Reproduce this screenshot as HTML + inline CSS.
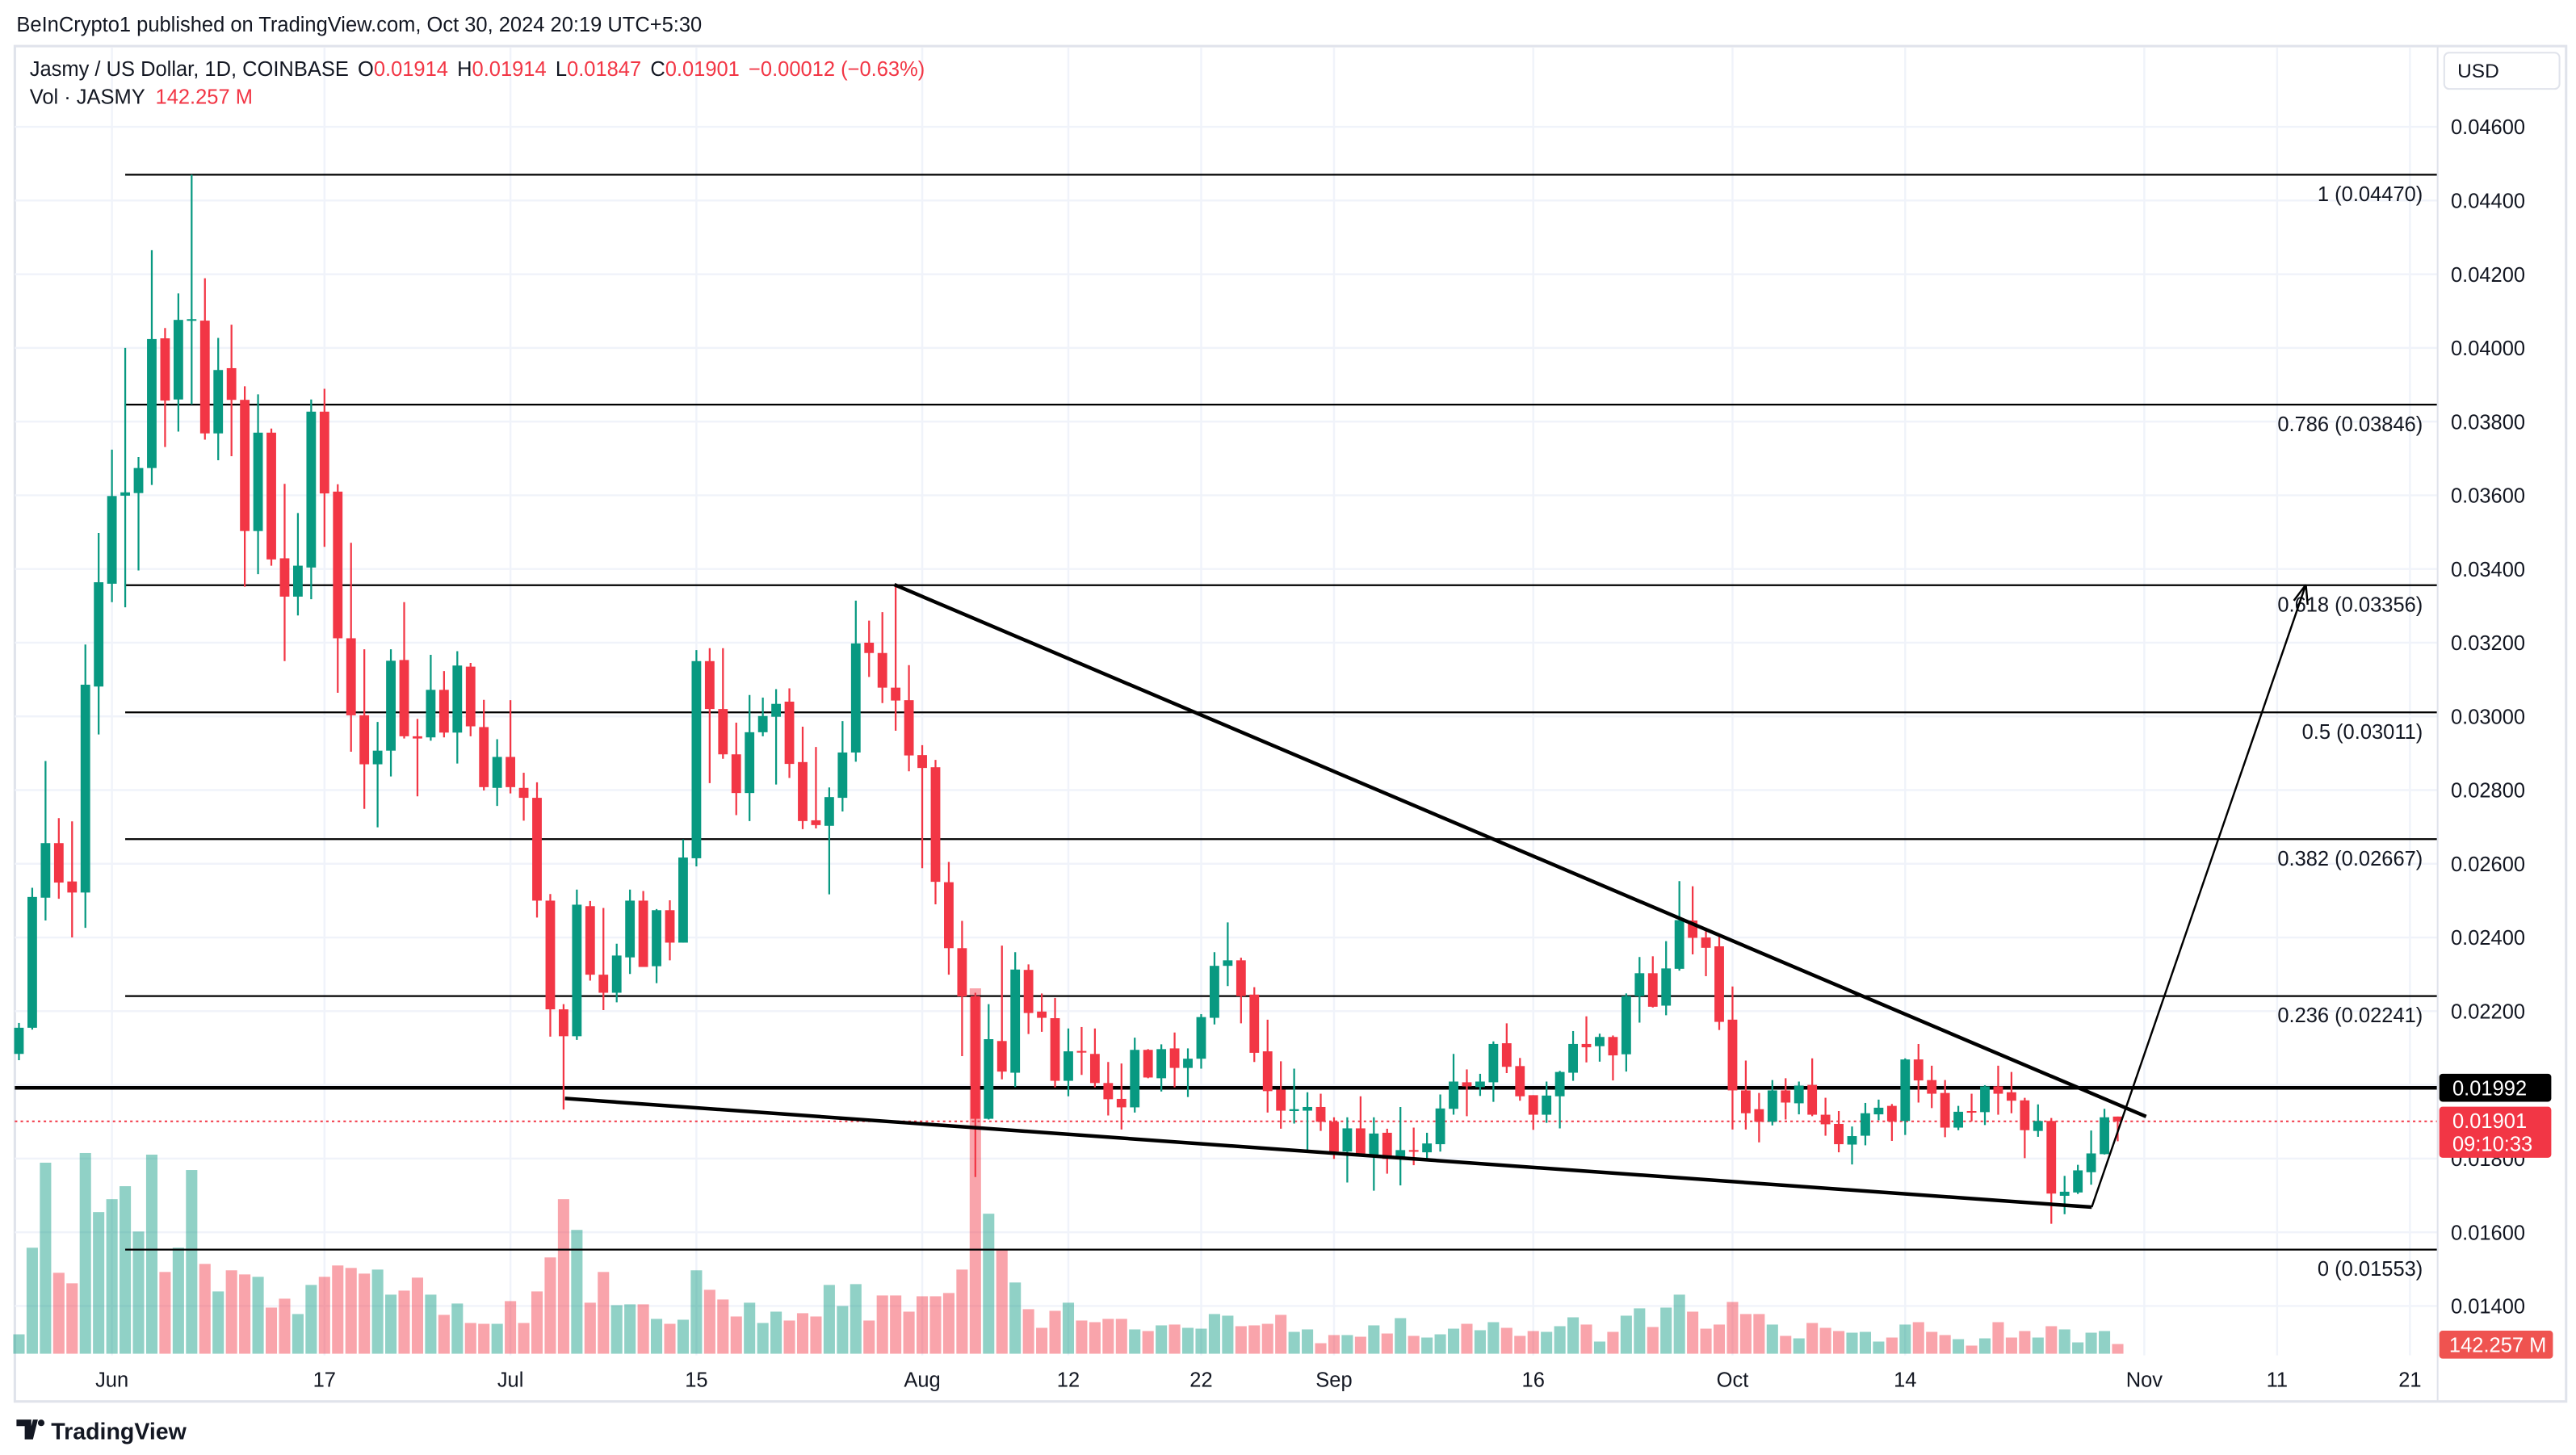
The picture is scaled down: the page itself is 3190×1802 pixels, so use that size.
<!DOCTYPE html>
<html><head><meta charset="utf-8"><style>
html,body{margin:0;padding:0;background:#fff;}
svg{display:block;font-family:"Liberation Sans",sans-serif;}
</style></head><body>
<svg id="chart" width="3190" height="1802" viewBox="0 0 1564 883.5" xmlns="http://www.w3.org/2000/svg">
<rect width="1564" height="883.5" fill="#ffffff"/>
<text x="10" y="19" font-size="12.5" fill="#131722">BeInCrypto1 published on TradingView.com, Oct 30, 2024 20:19 UTC+5:30</text>
<rect x="9" y="28" width="1549" height="823" fill="none" stroke="#e0e3eb" stroke-width="1.5"/>
<g id="grid"></g>
<g id="vol"></g>
<g id="levels"></g>
<g id="candles"></g>
<g id="draw"></g>
<line x1="1480" y1="28" x2="1480" y2="851" stroke="#e0e3eb" stroke-width="1"/>
<g id="axis"></g>
<g id="taxis"></g>
<text x="18" y="46" font-size="12.5" fill="#131722">Jasmy / US Dollar, 1D, COINBASE <tspan dx="2">O</tspan><tspan fill="#F23645">0.01914</tspan> <tspan dx="2">H</tspan><tspan fill="#F23645">0.01914</tspan> <tspan dx="2">L</tspan><tspan fill="#F23645">0.01847</tspan> <tspan dx="2">C</tspan><tspan fill="#F23645">0.01901</tspan> <tspan dx="2" fill="#F23645">−0.00012 (−0.63%)</tspan></text>
<text x="18" y="63" font-size="12.5" fill="#131722">Vol · JASMY <tspan dx="3" fill="#F23645">142.257 M</tspan></text>
<rect x="1484" y="32" width="70" height="22" rx="3" fill="#fff" stroke="#e0e3eb"/>
<text x="1492" y="47" font-size="12" fill="#131722">USD</text>
<g>
<path d="M10 862h9v12h-4v-8h-5z M20 862h3l-3 12h-3z" fill="#131722"/>
<circle cx="25" cy="864" r="2" fill="#131722"/>
<text x="31" y="874" font-size="14" font-weight="bold" fill="#131722">TradingView</text>
</g>
</svg>
<script>
const opens=[20.84,21.55,25.08,26.56,25.52,25.22,30.81,33.6,35.99,36.06,36.74,40.26,38.6,40.78,40.74,37.68,39.45,38.59,35.03,37.7,34.29,33.25,34.04,38.27,36.1,32.12,30.03,28.7,29.07,31.53,29.46,29.43,30.72,29.56,31.35,29.71,28.06,28.9,28.06,27.79,25.0,22.05,21.32,24.85,22.99,22.5,23.46,25.0,23.22,24.74,23.86,26.15,31.5,30.2,28.97,27.92,29.57,29.99,30.4,28.76,27.18,27.03,27.79,29.02,32.0,31.72,30.78,30.44,28.95,28.62,25.5,23.71,22.41,19.08,21.19,20.33,23.12,21.99,21.81,20.11,20.92,20.84,20.05,19.62,19.39,20.95,20.18,20.99,20.46,20.71,21.82,23.23,23.38,22.45,20.91,19.87,19.29,19.3,19.4,19.0,18.19,18.82,18.1,18.7,17.99,18.23,18.17,18.39,19.35,20.07,19.94,20.07,21.13,20.51,19.72,19.19,19.69,20.33,21.11,21.05,21.3,20.83,22.41,23.03,22.15,23.15,24.46,24.0,23.76,21.77,19.85,19.34,19.0,19.85,19.5,20.0,19.19,18.94,18.38,18.62,19.2,19.43,19.02,20.69,20.13,19.78,18.84,19.29,19.26,19.96,19.8,19.58,18.75,19.02,16.99,17.08,17.63,18.12,19.14];
const highs=[21.68,25.35,28.79,27.24,27.15,31.95,34.98,37.24,40.0,37.04,42.65,40.54,41.48,44.70,41.89,40.27,40.63,38.96,38.74,37.81,36.31,35.52,38.6,38.89,36.3,34.71,31.82,29.85,31.82,33.1,29.93,31.67,31.23,31.77,31.45,30.45,29.38,30.44,28.47,28.21,25.18,22.19,25.3,24.99,24.8,23.83,25.3,25.26,24.77,25.01,26.66,31.8,31.85,31.85,29.83,30.58,30.51,30.74,30.76,29.72,29.17,28.07,29.87,33.14,32.6,32.83,33.53,31.39,29.22,28.82,26.05,24.45,22.5,22.19,23.78,23.6,23.27,22.48,22.36,21.53,21.57,21.53,20.62,20.58,21.28,20.97,21.1,21.42,20.99,21.92,23.6,24.41,23.45,22.65,21.77,20.64,20.44,19.8,19.76,19.12,19.12,19.69,19.12,18.81,19.4,18.84,18.7,19.74,20.84,20.42,20.3,21.18,21.67,20.73,19.72,20.09,20.38,21.46,21.86,21.39,21.34,22.48,23.47,23.49,23.9,25.53,25.39,24.26,24.08,22.67,20.66,19.78,20.13,20.18,20.09,20.72,19.65,19.29,18.87,19.51,19.6,19.48,20.72,21.11,20.52,20.13,19.43,19.76,19.99,20.52,20.35,19.65,19.47,19.1,17.53,17.83,18.76,19.35,19.14];
const lows=[20.67,21.5,24.46,25.05,24.0,24.26,29.51,33.1,32.96,33.96,36.28,37.31,37.73,38.47,37.51,36.95,37.06,33.52,33.86,34.09,31.5,32.74,33.18,34.6,30.64,29.04,27.49,26.99,28.37,29.4,27.83,29.34,29.43,28.72,29.46,27.99,27.57,27.91,27.17,24.54,21.31,19.33,21.22,22.83,22.03,22.24,23.01,23.2,22.76,23.38,23.86,25.93,28.19,28.85,27.32,27.16,29.46,28.15,28.33,26.94,26.96,25.17,27.42,28.77,31.07,30.36,29.61,28.51,25.88,24.9,22.99,20.78,17.5,19.06,20.15,19.94,21.38,21.44,19.93,19.69,20.27,19.93,19.17,18.79,19.25,20.18,19.82,19.93,19.67,20.44,21.64,22.68,21.67,20.62,19.25,18.81,18.95,18.17,18.75,17.99,17.35,18.1,17.13,17.59,17.27,17.82,17.94,18.19,19.19,19.15,19.7,19.54,20.32,19.57,18.78,18.97,18.82,20.11,20.61,20.63,20.12,20.36,21.69,22.1,21.89,23.1,23.54,22.95,21.49,18.79,18.79,18.44,18.9,19.06,19.2,19.15,18.62,18.17,17.84,18.36,19.04,18.48,18.64,19.52,19.37,18.58,18.77,19.01,18.91,19.19,19.23,18.01,18.59,16.23,16.49,17.04,17.29,18.11,18.47];
const closes=[21.55,25.10,26.56,25.49,25.22,30.86,33.64,35.98,36.08,36.74,40.24,38.57,40.76,40.78,37.68,39.4,38.59,35.03,37.7,34.26,33.25,34.09,38.27,36.05,32.12,30.03,28.7,29.07,31.51,29.46,29.4,30.72,29.56,31.38,29.73,28.08,28.9,28.08,27.79,25.0,22.05,21.32,24.89,22.99,22.5,23.51,25.0,23.2,24.74,23.86,26.17,31.5,30.2,28.97,27.92,29.57,30.01,30.34,28.71,27.16,27.05,27.81,29.02,31.98,31.72,30.78,30.43,28.94,28.6,25.51,23.71,22.4,19.08,21.24,20.36,23.13,21.95,21.82,20.11,20.91,20.89,20.05,19.61,19.39,20.95,20.2,20.97,20.46,20.71,21.84,23.23,23.38,22.41,20.87,19.83,19.3,19.34,19.4,19.0,18.19,18.82,18.1,18.68,17.99,18.23,18.19,18.41,19.36,20.09,19.96,20.09,21.11,20.49,19.69,19.19,19.71,20.35,21.11,21.02,21.3,20.8,22.41,23.03,22.12,23.16,24.47,23.99,23.72,21.71,19.85,19.23,19.0,19.85,19.52,19.98,19.19,18.93,18.39,18.61,19.23,19.38,19.01,20.69,20.12,19.76,18.84,19.27,19.26,19.96,19.76,19.57,18.77,19.02,17.05,17.1,17.68,18.14,19.12,19.01];
const volumes=[284,1552,2797,1185,1031,2939,2074,2263,2453,1789,2915,1197,1552,2690,1315,912,1221,1161,1126,675,806,581,1007,1126,1292,1256,1173,1232,865,924,1114,865,569,735,450,438,438,770,450,912,1410,2263,1813,747,1197,711,723,723,510,438,498,1221,936,794,545,747,450,616,486,593,545,1007,699,1019,486,853,853,616,841,841,889,1232,5350,2050,1517,1043,652,379,628,747,486,462,510,510,356,332,415,427,379,367,581,557,403,415,438,569,320,356,154,273,273,249,415,296,521,261,237,284,367,438,344,462,379,261,332,320,403,533,427,178,320,557,664,391,675,865,616,367,427,758,581,581,427,261,225,450,379,332,308,320,178,237,427,462,320,273,213,119,225,462,237,332,237,403,356,166,308,332,142];
const priceTicks=["0.04600","0.04400","0.04200","0.04000","0.03800","0.03600","0.03400","0.03200","0.03000","0.02800","0.02600","0.02400","0.02200","0.02000","0.01800","0.01600","0.01400"];
const tickValues=[46,44,42,40,38,36,34,32,30,28,26,24,22,20,18,16,14];
const timeLabels=["Jun","17","Jul","15","Aug","12","22","Sep","16","Oct","14","Nov","11","21"];
const timeIndex=[7,23,37,51,68,79,89,99,114,129,142,160,170,180];
const fibValues=[44.70,38.46,33.56,30.11,26.67,22.41,15.53];
const fibLabels=["1 (0.04470)","0.786 (0.03846)","0.618 (0.03356)","0.5 (0.03011)","0.382 (0.02667)","0.236 (0.02241)","0 (0.01553)"];
const NS="http://www.w3.org/2000/svg";
function y(p){return 77+(46-p)*22.375;}
function x(i){return 11.5+i*8.065;}
function vy(v){return 822-v*0.04147;}
function mk(tag,attrs,parent){const e=document.createElementNS(NS,tag);for(const k in attrs)e.setAttribute(k,attrs[k]);parent.appendChild(e);return e;}
const G=document.getElementById('grid'),V=document.getElementById('vol'),L=document.getElementById('levels'),C=document.getElementById('candles'),D=document.getElementById('draw'),A=document.getElementById('axis'),T=document.getElementById('taxis');
tickValues.forEach((t,i)=>{
 const l=mk('line',{x1:9,x2:1480,y1:y(t),y2:y(t),stroke:'#f0f3fa','stroke-width':1.2},G);
 
 
 const tx=mk('text',{x:1488,y:y(t)+4.5,'font-size':12.5,fill:'#131722'},A);
 tx.textContent=priceTicks[i];
 
 
});
timeIndex.forEach((d,i)=>{
 const l=mk('line',{x1:x(d),x2:x(d),y1:29,y2:823,stroke:'#f0f3fa','stroke-width':1.2},G);
 
 
 const tx=mk('text',{x:x(d),y:842,'font-size':12.5,fill:'#131722','text-anchor':'middle'},T);
 tx.textContent=timeLabels[i];
 
 
});
volumes.forEach((v,i)=>{
 const up=closes[i]>=opens[i];
 const r=mk('rect',{x:x(i)-3.45,width:6.9,y:vy(v),height:822-vy(v),fill:up?'rgba(8,153,129,0.45)':'rgba(242,54,69,0.45)'},V);
 
 
});
fibValues.forEach((f,i)=>{
 const l=mk('line',{x1:76,x2:1480,y1:y(f),y2:y(f),stroke:'#000','stroke-width':1.1},L);
 
 
 const tx=mk('text',{x:1471,y:y(f)+16,'font-size':12.5,fill:'#131722','text-anchor':'end'},L);
 tx.textContent=fibLabels[i];
 
 
});
const sr=mk('line',{x1:9,x2:1480,y1:y(19.92),y2:y(19.92),stroke:'#000','stroke-width':2.2},L);


const cp=mk('line',{x1:9,x2:1480,y1:y(19.01),y2:y(19.01),stroke:'#F23645','stroke-width':1,'stroke-dasharray':'1.5 2'},L);


opens.forEach((o,i)=>{
 const c=closes[i],up=c>=o,col=up?'#089981':'#F23645';
 const g=mk('g',{},C);
 
 
 mk('line',{x1:x(i),x2:x(i),y1:y(highs[i]),y2:y(lows[i]),stroke:col,'stroke-width':1.1},g);
 const top=y(Math.max(o,c)),h=Math.max(1,Math.abs(y(o)-y(c)));
 mk('rect',{x:x(i)-2.9,width:5.8,y:top,height:h,fill:col},g);
});
const ut=mk('line',{x1:543,y1:355,x2:1303,y2:678,stroke:'#000','stroke-width':2.2},D);


const lt=mk('line',{x1:343,y1:667,x2:1270,y2:733,stroke:'#000','stroke-width':2.2},D);


const ar=mk('path',{d:'M1270 733 L1400 355 M1400 355 L1392.7 364.7 M1400 355 L1401.1 367.2',stroke:'#000','stroke-width':1.2,fill:'none'},D);


const b1=mk('rect',{x:1481,y:652,width:68,height:17,rx:2,fill:'#000'},A);


const t1=mk('text',{x:1489,y:665,'font-size':12.5,fill:'#fff'},A);t1.textContent='0.01992';


const b2=mk('rect',{x:1481,y:672,width:68,height:31,rx:2,fill:'#F23645'},A);


const t2=mk('text',{x:1489,y:685,'font-size':12.5,fill:'#fff'},A);t2.textContent='0.01901';


const t3=mk('text',{x:1489,y:699,'font-size':12.5,fill:'#fff'},A);t3.textContent='09:10:33';


const b3=mk('rect',{x:1481,y:808,width:69,height:17,rx:2,fill:'#EF5350'},A);


const t4=mk('text',{x:1487,y:821,'font-size':12.5,fill:'#fff'},A);t4.textContent='142.257 M';


</script>
</body></html>
